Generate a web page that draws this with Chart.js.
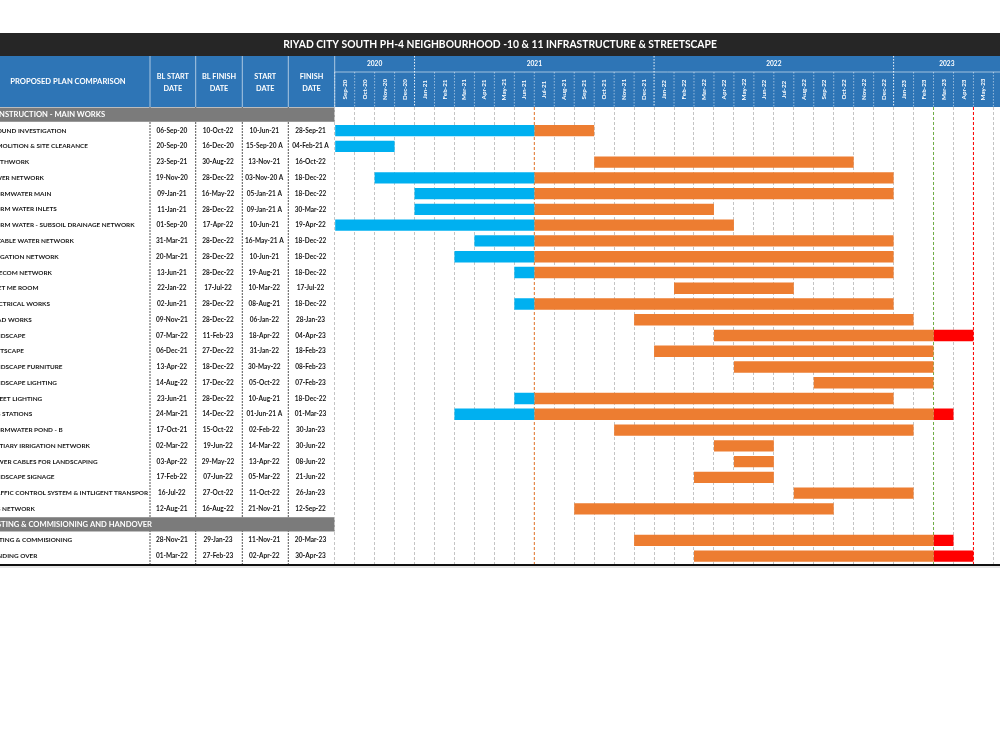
<!DOCTYPE html>
<html><head><meta charset="utf-8">
<script src="https://cdn.jsdelivr.net/npm/chart.js@4.4.1/dist/chart.umd.min.js"></script>
<style>html,body{margin:0;padding:0;background:#fff;}canvas{display:block;}</style>
</head><body>
<canvas id="c" width="1000" height="750"></canvas>
<script>
const title = 'RIYAD CITY SOUTH PH-4 NEIGHBOURHOOD -10 & 11 INFRASTRUCTURE & STREETSCAPE';
const tableHeader = ['PROPOSED PLAN COMPARISON', 'BL START\nDATE', 'BL FINISH\nDATE', 'START\nDATE', 'FINISH\nDATE'];
const months = ['Sep-20','Oct-20','Nov-20','Dec-20','Jan-21','Feb-21','Mar-21','Apr-21','May-21','Jun-21','Jul-21','Aug-21','Sep-21','Oct-21','Nov-21','Dec-21','Jan-22','Feb-22','Mar-22','Apr-22','May-22','Jun-22','Jul-22','Aug-22','Sep-22','Oct-22','Nov-22','Dec-22','Jan-23','Feb-23','Mar-23','Apr-23','May-23','Jun-23'];
const years = ['2020','2021','2022','2023'];
const sections = ['CONSTRUCTION - MAIN WORKS','TESTING & COMMISIONING AND HANDOVER'];
const rowLabels = ['CONSTRUCTION - MAIN WORKS','GROUND INVESTIGATION','DEMOLITION & SITE CLEARANCE','EARTHWORK','SEWER NETWORK','STORMWATER MAIN','STORM WATER INLETS','STORM WATER - SUBSOIL DRAINAGE NETWORK','POTABLE WATER NETWORK','IRRIGATION NETWORK','TELECOM NETWORK','MEET ME ROOM','ELECTRICAL WORKS','ROAD WORKS','LANDSCAPE','SOFTSCAPE','LANDSCAPE FURNITURE','LANDSCAPE LIGHTING','STREET LIGHTING','BUS STATIONS','STORMWATER POND - B','TERTIARY IRRIGATION NETWORK','POWER CABLES FOR LANDSCAPING','LANDSCAPE SIGNAGE','TRAFFIC CONTROL SYSTEM & INTLIGENT TRANSPORT','GAS NETWORK','TESTING & COMMISIONING AND HANDOVER','TESTING & COMMISIONING','HANDING OVER'];
const blStart = ['','06-Sep-20','20-Sep-20','23-Sep-21','19-Nov-20','09-Jan-21','11-Jan-21','01-Sep-20','31-Mar-21','20-Mar-21','13-Jun-21','22-Jan-22','02-Jun-21','09-Nov-21','07-Mar-22','06-Dec-21','13-Apr-22','14-Aug-22','23-Jun-21','24-Mar-21','17-Oct-21','02-Mar-22','03-Apr-22','17-Feb-22','16-Jul-22','12-Aug-21','','28-Nov-21','01-Mar-22'];
const blFinish = ['','10-Oct-22','16-Dec-20','30-Aug-22','28-Dec-22','16-May-22','28-Dec-22','17-Apr-22','28-Dec-22','28-Dec-22','28-Dec-22','17-Jul-22','28-Dec-22','28-Dec-22','11-Feb-23','27-Dec-22','18-Dec-22','17-Dec-22','28-Dec-22','14-Dec-22','15-Oct-22','19-Jun-22','29-May-22','07-Jun-22','27-Oct-22','16-Aug-22','','29-Jan-23','27-Feb-23'];
const startDate = ['','10-Jun-21','15-Sep-20 A','13-Nov-21','03-Nov-20 A','05-Jan-21 A','09-Jan-21 A','10-Jun-21','16-May-21 A','10-Jun-21','19-Aug-21','10-Mar-22','08-Aug-21','06-Jan-22','18-Apr-22','31-Jan-22','30-May-22','05-Oct-22','10-Aug-21','01-Jun-21 A','02-Feb-22','14-Mar-22','13-Apr-22','05-Mar-22','11-Oct-22','21-Nov-21','','11-Nov-21','02-Apr-22'];
const finishDate = ['','28-Sep-21','04-Feb-21 A','16-Oct-22','18-Dec-22','18-Dec-22','30-Mar-22','19-Apr-22','18-Dec-22','18-Dec-22','18-Dec-22','17-Jul-22','18-Dec-22','28-Jan-23','04-Apr-23','18-Feb-23','08-Feb-23','07-Feb-23','18-Dec-22','01-Mar-23','30-Jan-23','30-Jun-22','08-Jun-22','21-Jun-22','26-Jan-23','12-Sep-22','','20-Mar-23','30-Apr-23'];
// bars: first and last month covered (inclusive)
const actualBars = [null,['Sep-20','Jun-21'],['Sep-20','Nov-20'],null,['Nov-20','Jun-21'],['Jan-21','Jun-21'],['Jan-21','Jun-21'],['Sep-20','Jun-21'],['Apr-21','Jun-21'],['Mar-21','Jun-21'],['Jun-21','Jun-21'],null,['Jun-21','Jun-21'],null,null,null,null,null,['Jun-21','Jun-21'],['Mar-21','Jun-21'],null,null,null,null,null,null,null,null,null];
const remainingBars = [null,['Jul-21','Sep-21'],null,['Oct-21','Oct-22'],['Jul-21','Dec-22'],['Jul-21','Dec-22'],['Jul-21','Mar-22'],['Jul-21','Apr-22'],['Jul-21','Dec-22'],['Jul-21','Dec-22'],['Jul-21','Dec-22'],['Feb-22','Jul-22'],['Jul-21','Dec-22'],['Dec-21','Jan-23'],['Apr-22','Feb-23'],['Jan-22','Feb-23'],['May-22','Feb-23'],['Sep-22','Feb-23'],['Jul-21','Dec-22'],['Jul-21','Feb-23'],['Nov-21','Jan-23'],['Apr-22','Jun-22'],['May-22','Jun-22'],['Mar-22','Jun-22'],['Aug-22','Jan-23'],['Sep-21','Sep-22'],null,['Dec-21','Feb-23'],['Mar-22','Feb-23']];
const delayBars = [null,null,null,null,null,null,null,null,null,null,null,null,null,null,['Mar-23','Apr-23'],null,null,null,null,['Mar-23','Mar-23'],null,null,null,null,null,null,null,['Mar-23','Mar-23'],['Mar-23','Apr-23']];
const markerLines = [['Jul-21','#ED7D31'],['Mar-23','#70AD47'],['May-23','#FF0000']];

const span = p => p ? [months.indexOf(p[0]), months.indexOf(p[1]) + 1] : null;

const FONT = 'Lato, "Open Sans", sans-serif';
const HEAD_TOP = 56, YEAR_BOTTOM = 72;
const COLS = [150, 195.7, 242.3, 288.3];

const sheet = {
  id: 'sheet',
  beforeDraw(chart) {
    const {ctx, chartArea: a, scales: {x, y}} = chart;
    ctx.save();
    // title bar
    ctx.fillStyle = '#262626';
    ctx.fillRect(0, 33, 1000, HEAD_TOP - 33);
    ctx.fillStyle = '#fff';
    ctx.textAlign = 'center'; ctx.textBaseline = 'middle';
    let fs = 12; ctx.font = `bold ${fs}px ${FONT}`;
    fs = fs * 434 / ctx.measureText(title).width;
    ctx.font = `bold ${fs}px ${FONT}`;
    ctx.fillText(title, 500, 45);
    // header
    ctx.fillStyle = '#2E75B6';
    ctx.fillRect(0, HEAD_TOP, 1000, a.top - HEAD_TOP);
    ctx.strokeStyle = 'rgba(255,255,255,0.6)'; ctx.lineWidth = 1;
    [...COLS, a.left].forEach(cx => { ctx.beginPath(); ctx.moveTo(cx, HEAD_TOP); ctx.lineTo(cx, a.top); ctx.stroke(); });
    ctx.fillStyle = '#fff';
    ctx.font = `bold 7.6px ${FONT}`;
    ctx.fillText(tableHeader[0], 68, 82);
    ctx.font = `bold 7.3px ${FONT}`;
    const hdrEdges = [...COLS, a.left];
    for (let k = 1; k < tableHeader.length; k++) {
      const cx = (hdrEdges[k - 1] + hdrEdges[k]) / 2;
      const lines = tableHeader[k].split('\n');
      ctx.fillText(lines[0], cx, 77);
      ctx.fillText(lines[1], cx, 88.5);
    }
    // year row / month row
    ctx.strokeStyle = 'rgba(255,255,255,0.55)';
    ctx.beginPath(); ctx.moveTo(a.left, YEAR_BOTTOM); ctx.lineTo(1000, YEAR_BOTTOM); ctx.stroke();
    ctx.setLineDash([1.5, 1.5]);
    months.forEach((m, i) => {
      const px = x.getPixelForValue(i);
      const yearStart = m.startsWith('Jan');
      ctx.strokeStyle = yearStart ? 'rgba(255,255,255,0.9)' : 'rgba(255,255,255,0.5)';
      ctx.beginPath(); ctx.moveTo(px, yearStart ? HEAD_TOP : YEAR_BOTTOM); ctx.lineTo(px, a.top); ctx.stroke();
    });
    ctx.setLineDash([]);
    ctx.font = `bold 6.6px ${FONT}`;
    years.forEach(yr => {
      const idx = months.map((m, i) => [m, i]).filter(([m]) => m.endsWith(yr.slice(2)));
      const l = Math.max(a.left, x.getPixelForValue(idx[0][1]));
      const r = Math.min(a.right, x.getPixelForValue(idx[idx.length - 1][1] + 1));
      ctx.fillText(yr, (l + r) / 2, 64);
    });
    ctx.font = `bold 6.3px ${FONT}`;
    months.forEach((m, i) => {
      const cx = x.getPixelForValue(i + 0.5);
      ctx.save(); ctx.translate(cx, 89.5); ctx.rotate(-Math.PI / 2);
      ctx.fillText(m, 0, 0); ctx.restore();
    });
    // table body separators
    ctx.strokeStyle = '#555'; ctx.setLineDash([2, 1]);
    COLS.forEach(cx => { ctx.beginPath(); ctx.moveTo(cx, a.top); ctx.lineTo(cx, a.bottom); ctx.stroke(); });
    ctx.setLineDash([]);
    // rows
    const band = (a.bottom - a.top) / rowLabels.length;
    rowLabels.forEach((lab, i) => {
      const cy = y.getPixelForValue(i);
      if (sections.includes(lab)) {
        ctx.fillStyle = '#7B7B7B';
        ctx.fillRect(0, cy - band / 2 + 0.5, a.left, band - 1.5);
        ctx.fillStyle = '#fff'; ctx.textAlign = 'left';
        ctx.font = `bold 7.6px ${FONT}`;
        ctx.fillText(lab, -12, cy);
        return;
      }
      ctx.fillStyle = '#151515'; ctx.textAlign = 'left';
      ctx.font = `bold 6.4px ${FONT}`;
      ctx.save(); ctx.beginPath(); ctx.rect(0, cy - band / 2, COLS[0] - 2, band); ctx.clip();
      ctx.fillText(lab, -12, cy);
      ctx.restore();
      ctx.textAlign = 'center';
      ctx.font = `bold 6.5px ${FONT}`;
      const vals = [blStart[i], blFinish[i], startDate[i], finishDate[i]];
      vals.forEach((v, k) => {
        const cx = (hdrEdges[k] + hdrEdges[k + 1]) / 2 - 1;
        ctx.fillText(v, cx, cy);
      });
    });
    ctx.restore();
  },
  beforeDatasetsDraw(chart) {
    const {ctx, chartArea: a, scales: {x}} = chart;
    ctx.save();
    ctx.lineWidth = 1; ctx.setLineDash([3, 2]);
    markerLines.forEach(([m, col]) => {
      const px = x.getPixelForValue(months.indexOf(m));
      ctx.strokeStyle = col;
      ctx.beginPath(); ctx.moveTo(px, a.top); ctx.lineTo(px, a.bottom); ctx.stroke();
    });
    ctx.restore();
  },
  afterDraw(chart) {
    const {ctx, chartArea: a} = chart;
    ctx.save();
    ctx.fillStyle = '#111';
    ctx.fillRect(0, a.bottom, 1000, 2);
    ctx.fillStyle = '#cfcfcf';
    ctx.fillRect(0, a.bottom + 2.5, 1000, 1);
    ctx.restore();
  }
};

new Chart(document.getElementById('c'), {
  type: 'bar',
  data: {
    labels: rowLabels,
    datasets: [
      {label: 'Actual', data: actualBars.map(span), backgroundColor: '#00B0F0'},
      {label: 'Remaining', data: remainingBars.map(span), backgroundColor: '#ED7D31'},
      {label: 'Delay', data: delayBars.map(span), backgroundColor: '#FF0000'}
    ]
  },
  options: {
    indexAxis: 'y',
    responsive: false,
    animation: false,
    devicePixelRatio: 1,
    datasets: {bar: {grouped: false, barPercentage: 0.72, categoryPercentage: 1, borderWidth: 0}},
    layout: {padding: {left: 334.7, top: 107, right: 0, bottom: 186}},
    plugins: {legend: {display: false}, tooltip: {enabled: false}},
    scales: {
      x: {
        type: 'linear', min: 0, max: 33.33,
        ticks: {display: false, stepSize: 1, includeBounds: false, maxTicksLimit: 100},
        grid: {color: '#c4c4c4', lineWidth: 1, drawTicks: false},
        border: {display: false, dash: [3, 2]},
        afterFit: s => { s.height = 0; }
      },
      y: {type: 'category', display: false}
    }
  },
  plugins: [sheet]
});
</script>
</body></html>
